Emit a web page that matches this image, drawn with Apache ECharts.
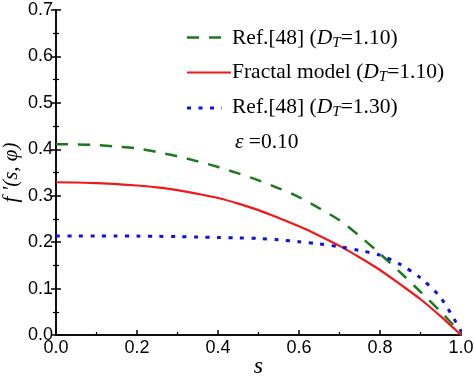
<!DOCTYPE html>
<html><head><meta charset="utf-8">
<script src="https://cdn.jsdelivr.net/npm/echarts@6/dist/echarts.min.js"></script>
<style>html,body{margin:0;padding:0;background:#fff}#c{width:474px;height:379px}</style>
</head><body><div id="c"></div>
<script>
const sValues = [0,0.05,0.1,0.15,0.2,0.25,0.3,0.35,0.4,0.45,0.5,0.55,0.6,0.65,0.7,0.75,0.8,0.85,0.9,0.95,1.0];
const ref48_110 = [0.411,0.4105,0.409,0.406,0.402,0.394,0.385,0.374,0.362,0.348,0.333,0.316,0.297,0.273,0.247,0.213,0.175,0.135,0.093,0.05,0.004];
const fractal_110 = [0.329,0.3285,0.327,0.325,0.322,0.318,0.312,0.304,0.295,0.283,0.269,0.252,0.234,0.214,0.192,0.167,0.140,0.109,0.077,0.040,0.0];
const ref48_130 = [0.213,0.2133,0.2135,0.2134,0.213,0.2125,0.212,0.211,0.210,0.209,0.208,0.205,0.201,0.196,0.190,0.182,0.172,0.152,0.123,0.080,0.008];

const pair = ys => sValues.map((s,i)=>[s,ys[i]]);
const chart = echarts.init(document.getElementById('c'));
const serif = '"Liberation Serif","Times New Roman",serif';
const sans = '"Liberation Sans",Arial,sans-serif';
const axisLine = {show:true, lineStyle:{color:'#000', width:1.5}};
const legendRich = {
  n:{fontFamily:serif, fontSize:21.5, color:'#000'},
  d:{fontFamily:serif, fontSize:21.5, fontStyle:'italic', color:'#000'},
  t:{fontFamily:serif, fontSize:15, fontStyle:'italic', color:'#000', verticalAlign:'bottom', padding:[11,0,0,0]}
};
const greenStyle = {color:'#1b7a1b', width:2.5, type:[12,10]};
const redStyle = {color:'#f01818', width:2.2};
const blueStyle = {color:'#1010e0', width:3, type:[4,7.5]};
chart.setOption({
  animation:false,
  grid:{left:56, right:13, top:10, bottom:44, containLabel:false, outerBoundsMode:'none'},
  xAxis:[{
    type:'value', min:0, max:1, interval:0.2,
    axisLine, axisTick:{show:true, inside:true, length:5, lineStyle:{color:'#000', width:1.5}},
    minorTick:{show:true, splitNumber:2, length:3, lineStyle:{color:'#000', width:1.2}},
    axisLabel:{fontFamily:sans, fontSize:18, color:'#000', margin:4, formatter:v=>v.toFixed(1)},
    splitLine:{show:false},
    name:'s', nameLocation:'middle', nameGap:20, nameMoveOverlap:false,
    nameTextStyle:{fontFamily:serif, fontSize:24, fontStyle:'italic', color:'#000'}
  },{
    type:'value', min:0, max:1, position:'top', axisLine, axisTick:{show:false}, axisLabel:{show:false}, splitLine:{show:false}
  }],
  yAxis:[{
    type:'value', min:0, max:0.7, interval:0.1,
    axisLine, axisTick:{show:true, inside:true, length:5, lineStyle:{color:'#000', width:1.5}},
    minorTick:{show:true, splitNumber:2, length:3, lineStyle:{color:'#000', width:1.2}},
    axisLabel:{fontFamily:sans, fontSize:18, color:'#000', margin:3, formatter:v=>v.toFixed(1)},
    splitLine:{show:false},
    name:"f '(s, \u03c6)", nameLocation:'middle', nameGap:34, nameRotate:90, nameMoveOverlap:false,
    nameTextStyle:{fontFamily:serif, fontSize:21, fontStyle:'italic', color:'#000'}
  },{
    type:'value', min:0, max:0.7, interval:0.1, position:'right',
    axisLine, axisTick:{show:true, inside:true, length:5, lineStyle:{color:'#000', width:1.5}},
    minorTick:{show:true, splitNumber:2, length:3, lineStyle:{color:'#000', width:1.2}},
    axisLabel:{show:false}, splitLine:{show:false}
  }],
  series:[
    {name:'Ref.[48] (DT=1.10)', type:'line', data:pair(ref48_110), smooth:0.3, showSymbol:false,
      lineStyle:greenStyle},
    {name:'Fractal model (DT=1.10)', type:'line', data:pair(fractal_110), smooth:0.3, showSymbol:false,
      lineStyle:redStyle},
    {name:'Ref.[48] (DT=1.30)', type:'line', data:pair(ref48_130), smooth:0.3, showSymbol:false,
      lineStyle:blueStyle}
  ],
  graphic:[
    {type:'line', shape:{x1:187,y1:37.5,x2:222,y2:37.5}, style:{stroke:'#1b7a1b', lineWidth:2.5, lineDash:[12,10]}},
    {type:'line', shape:{x1:187,y1:72.5,x2:231,y2:72.5}, style:{stroke:'#f01818', lineWidth:2.2}},
    {type:'line', shape:{x1:187,y1:108,x2:222,y2:108}, style:{stroke:'#1010e0', lineWidth:3, lineDash:[4,7.5]}},
    {type:'text', left:232, top:27, style:{text:'{n|Ref.[48] (}{d|D}{t|T}{n|=1.10)}', rich:legendRich}},
    {type:'text', left:232, top:61, style:{text:'{n|Fractal model (}{d|D}{t|T}{n|=1.10)}', rich:legendRich}},
    {type:'text', left:232, top:96, style:{text:'{n|Ref.[48] (}{d|D}{t|T}{n|=1.30)}', rich:legendRich}},
    {type:'text', left:235, top:131, style:{text:'{d|\u03b5}{n| =0.10}', rich:legendRich}}
  ]
});
</script></body></html>
